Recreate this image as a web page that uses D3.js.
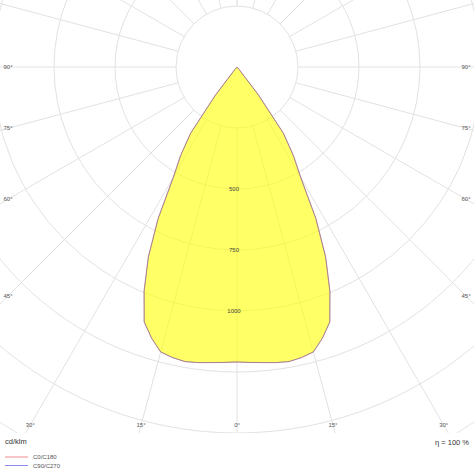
<!DOCTYPE html>
<html><head><meta charset="utf-8">
<script src="https://cdn.jsdelivr.net/npm/d3@7"></script>
<style>html,body{margin:0;padding:0;background:#fff;}svg{display:block;font-family:"Liberation Sans",Arial,sans-serif;}</style>
</head><body>
<svg id="c" width="474" height="474"></svg>
<script>
// gamma angles (deg from nadir)
const gammas = [0,2.5,5,7.5,10,12.5,15,17.5,20,22.5,25,27.5,30,32.5,35,37.5,40,42.5,45,50,60,70,80,90];
// luminous intensity, cd/klm
const c0c180 = [1209,1212,1216,1222,1226,1220,1209,1165,1112,995,860,700,522,430,332,145,15,2,0,0,0,0,0,0];
const c90c270 = [1209,1212,1216,1222,1226,1220,1209,1165,1112,995,860,700,522,430,332,145,15,2,0,0,0,0,0,0];
const ringValues = [250,500,750,1000,1250,1500,1750,2000];
const ringLabels = ["","500","750","1000","","","",""];
const spokeAngles = d3.range(-180,181,15);
const angleLabels = [90,75,60,45,30,15,0,15,30,45,60,75,90];
const angleLabelPos = [-90,-75,-60,-45,-30,-15,0,15,30,45,60,75,90];
const legendNames = ["C0/C180","C90/C270"];
const legendColors = ["#f08c8c","#8c8cf0"];

const svg = d3.select("#c");
const cx = 237, cy = 67;
const r = d3.scaleLinear().domain([0,1500]).range([0,366]);
const toRad = d => d*Math.PI/180;

svg.append("defs").append("clipPath").attr("id","clip")
  .append("rect").attr("x",0).attr("y",0).attr("width",474).attr("height",433);

const grid = svg.append("g").attr("clip-path","url(#clip)");
const g0 = grid.append("g").attr("transform",`translate(${cx},${cy})`);
g0.selectAll("circle").data(ringValues).join("circle")
  .attr("r",d=>r(d)).attr("fill","none").attr("stroke","#e2e2e2").attr("stroke-width",1);
g0.selectAll("line").data(spokeAngles).join("line")
  .attr("x1",d=>r(250)*Math.sin(toRad(d))).attr("y1",d=>r(250)*Math.cos(toRad(d)))
  .attr("x2",d=>800*Math.sin(toRad(d))).attr("y2",d=>800*Math.cos(toRad(d)))
  .attr("stroke","#e2e2e2").attr("stroke-width",1);

// polygon points: C180 side (left) from 90 to 0, then C0 side (right) 0 to 90
function pts(vals){
  const left = gammas.map((g,i)=>({a:Math.PI+toRad(g), v:vals[i]})).reverse();
  const right = gammas.map((g,i)=>({a:Math.PI-toRad(g), v:vals[i]}));
  return left.concat(right);
}
const radial = d3.lineRadial().angle(d=>d.a).radius(d=>r(d.v)).curve(d3.curveLinearClosed);
const shape = svg.append("g").attr("transform",`translate(${cx},${cy})`);
shape.append("path").attr("d",radial(pts(c0c180))).attr("fill","#ffff00").attr("fill-opacity",0.6).attr("stroke","none");
shape.append("path").attr("d",radial(pts(c0c180))).attr("fill","none").attr("stroke","#c07070").attr("stroke-width",1).attr("stroke-opacity",0.8);
shape.append("path").attr("d",radial(pts(c90c270))).attr("fill","none").attr("stroke","#8070b0").attr("stroke-width",1).attr("stroke-opacity",0.45);

// ring labels
shape.selectAll("text.rl").data(ringValues.map((v,i)=>({v,t:ringLabels[i]})).filter(d=>d.t)).join("text")
  .attr("class","rl").attr("x",-3).attr("y",d=>r(d.v)+2).attr("text-anchor","middle")
  .attr("font-size",6).attr("fill","#444").text(d=>d.t);

// angle labels
const labelG = svg.append("g");
angleLabelPos.forEach((a,i)=>{
  const s = Math.sin(toRad(a)), c = Math.cos(toRad(a));
  let t = Infinity;
  if (Math.abs(s)>1e-6) t = Math.min(t, (s>0 ? (466-cx)/s : (8-cx)/s));
  if (c>1e-6) t = Math.min(t, (425-cy)/c);
  const x = cx + t*s, y = cy + t*c;
  labelG.append("text").attr("x",x).attr("y",y+2).attr("text-anchor","middle")
    .attr("font-size",6).attr("fill","#555").text(angleLabels[i]+"°");
});

// legend
svg.append("text").attr("x",5).attr("y",444).attr("font-size",7.5).attr("fill","#333").text("cd/klm");
legendNames.forEach((n,i)=>{
  const y = 457 + i*8.5;
  svg.append("line").attr("x1",5).attr("x2",28).attr("y1",y).attr("y2",y)
    .attr("stroke",legendColors[i]).attr("stroke-width",1);
  svg.append("text").attr("x",33).attr("y",y+2).attr("font-size",6).attr("fill","#555").text(n);
});
svg.append("text").attr("x",469).attr("y",445).attr("text-anchor","end")
  .attr("font-size",7.5).attr("fill","#333").text("η = 100 %");
</script>
</body></html>
